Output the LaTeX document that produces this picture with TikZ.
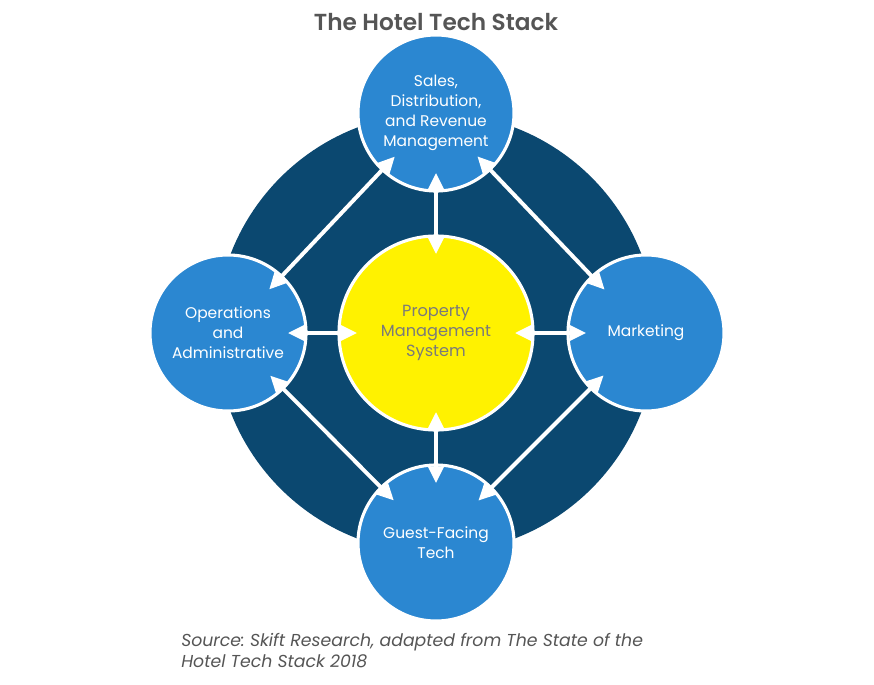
\documentclass[tikz,border=0pt]{standalone}
\usepackage{fontspec}
\setmainfont{Poppins}[BoldFont=* SemiBold]
\usetikzlibrary{arrows.meta, positioning}

\definecolor{navy}{HTML}{0B4870}
\definecolor{skyblue}{HTML}{2B87D1}
\definecolor{pmsyellow}{HTML}{FFF200}
\definecolor{labelgray}{HTML}{7A7A7A}
\definecolor{titlegray}{HTML}{555555}

\tikzset{
  area/.style={circle, draw=white, line width=2.2pt, fill=skyblue, text=white,
    minimum size=3.9cm, inner sep=0pt, align=center, font=\fontsize{11}{14.3}\selectfont},
  hub/.style={circle, draw=white, line width=2.2pt, fill=pmsyellow, text=labelgray,
    minimum size=4.85cm, inner sep=0pt, align=center, font=\fontsize{11.5}{14.5}\selectfont},
  link/.style={draw=white, line width=2.8pt, {Triangle[length=12pt,width=11pt]}-{Triangle[length=12pt,width=11pt]},
    shorten <=-14pt, shorten >=-14pt}
}

\begin{document}
\frenchspacing
\begin{tikzpicture}[x=0.025cm, y=-0.025cm]
  \useasboundingbox (0,0) rectangle (874,684);
  % Title
  \node[text=titlegray, font=\fontsize{16.5}{19}\selectfont\bfseries] (title) at (436,22) {The Hotel Tech Stack};
  % Ring
  \fill[navy] (436,333) circle[radius=220];
  % Hub
  \node[hub] (pms) at (436,333) {Property\\Management\\System};
  % Areas
  \node[area] (sales) at (436,113) {Sales,\\Distribution,\\and Revenue\\Management};
  \node[area] (ops) at (228,333) {Operations\\and\\Administrative};
  \node[area] (mkt) at (646,333) {Marketing};
  \node[area] (guest) at (436,543) {Guest-Facing\\Tech};
  % Links from hub
  \draw[link] (pms) -- (sales);
  \draw[link] (pms) -- (ops);
  \draw[link] (pms) -- (mkt);
  \draw[link] (pms) -- (guest);
  % Links round the ring
  \draw[link] (ops) -- (sales);
  \draw[link] (sales) -- (mkt);
  \draw[link] (mkt) -- (guest);
  \draw[link] (guest) -- (ops);
  % Source
  \node[anchor=west, align=left, inner sep=0pt, text=titlegray, font=\fontsize{12.3}{15}\selectfont\itshape] (source) at (181,651)
    {Source: Skift Research, adapted from The State of the\\Hotel Tech Stack 2018};
\end{tikzpicture}
\end{document}
